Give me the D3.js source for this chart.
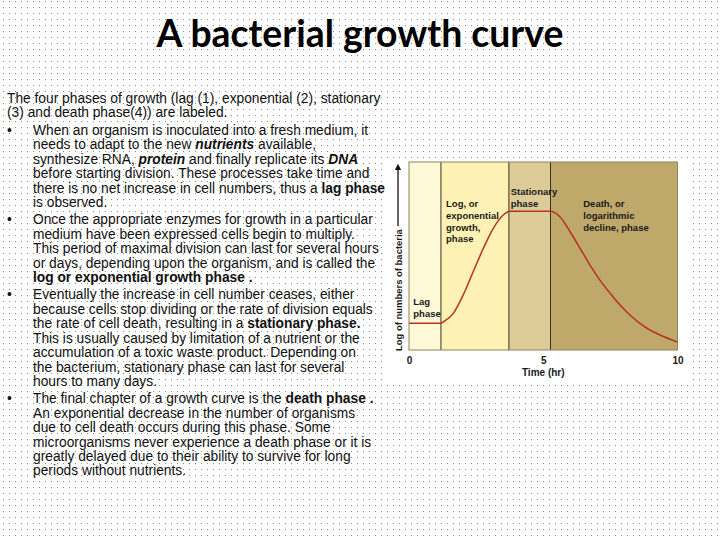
<!DOCTYPE html>
<html>
<head>
<meta charset="utf-8">
<script src="https://cdn.jsdelivr.net/npm/d3@7"></script>
<style>
  body { margin: 0; background: #fff; }
  svg { display: block; }
  .body-text { font-family: "Liberation Sans", Arial, sans-serif; font-size: 13px; fill: #111; }
  .fig-text { font-family: "Liberation Sans", Arial, sans-serif; font-weight: bold; font-size: 9.5px; fill: #1a1a1a; }
</style>
</head>
<body>
<svg id="slide" width="720" height="540"></svg>
<script>
// growth curve (time in hr, log count in arbitrary units)
var times  = [0, 1.19, 1.28, 1.65, 2.02, 2.39, 2.77, 3.14, 3.51, 3.76, 5.25, 5.62, 6.0, 6.37, 6.74, 7.11, 7.49, 7.86, 8.23, 8.6, 8.98, 9.35, 10];
var logN   = [1.42, 1.42, 1.5, 1.95, 2.93, 4.16, 5.41, 6.47, 7.18, 7.38, 7.38, 7.09, 6.29, 5.41, 4.52, 3.72, 3.02, 2.39, 1.86, 1.42, 1.06, 0.8, 0.42];

var phaseStart = [0, 1.19, 3.72, 5.27];
var phaseEnd   = [1.19, 3.72, 5.27, 10];
var phaseColor = ['#fdf8d6', '#fdf2b3', '#ddcb98', '#bea96b'];
var phaseLabel = [['Lag', 'phase'], ['Log, or', 'exponential', 'growth,', 'phase'], ['Stationary', 'phase'], ['Death, or', 'logarithmic', 'decline, phase']];
var labelAt    = [[0.16, 2.39], [1.38, 7.6], [3.79, 8.24], [6.49, 7.6]];

var xTicks = [0, 5, 10];

// slide text, one entry per line: [paragraph, bullet?, segments]
var lines = [
  [0, false, [['The four phases of growth (lag (1), exponential (2), stationary']]],
  [0, false, [['(3) and death phase(4)) are labeled.']]],
  [1, true,  [['When an organism is inoculated into a fresh medium, it']]],
  [1, false, [['needs to adapt to the new '], ['nutrients', 'bi'], [' available,']]],
  [1, false, [['synthesize RNA, '], ['protein', 'bi'], [' and finally replicate its '], ['DNA', 'bi']]],
  [1, false, [['before starting division. These processes take time and']]],
  [1, false, [['there is no net increase in cell numbers, thus a '], ['lag phase', 'b']]],
  [1, false, [['is observed.']]],
  [2, true,  [['Once the appropriate enzymes for growth in a particular']]],
  [2, false, [['medium have been expressed cells begin to multiply.']]],
  [2, false, [['This period of maximal division can last for several hours']]],
  [2, false, [['or days, depending upon the organism, and is called the']]],
  [2, false, [['log or exponential growth phase .', 'b']]],
  [3, true,  [['Eventually the increase in cell number ceases, either']]],
  [3, false, [['because cells stop dividing or the rate of division equals']]],
  [3, false, [['the rate of cell death, resulting in a '], ['stationary phase.', 'b']]],
  [3, false, [['This is usually caused by limitation of a nutrient or the']]],
  [3, false, [['accumulation of a toxic waste product. Depending on']]],
  [3, false, [['the bacterium, stationary phase can last for several']]],
  [3, false, [['hours to many days.']]],
  [4, true,  [['The final chapter of a growth curve is the '], ['death phase .', 'b']]],
  [4, false, [['An exponential decrease in the number of organisms']]],
  [4, false, [['due to cell death occurs during this phase. Some']]],
  [4, false, [['microorganisms never experience a death phase or it is']]],
  [4, false, [['greatly delayed due to their ability to survive for long']]],
  [4, false, [['periods without nutrients.']]]
];

var svg = d3.select('#slide');

// scale a text so it spans the wanted width
function fit(sel, size, want){
  sel.style('font-size', size + 'px');
  var w = sel.node().getComputedTextLength();
  var s = size * want / w;
  sel.style('font-size', s + 'px');
  return s;
}

// dotted slide background
var defs = svg.append('defs');
defs.append('pattern')
  .attr('id', 'dots')
  .attr('width', 6).attr('height', 6)
  .attr('patternUnits', 'userSpaceOnUse')
  .append('rect')
  .attr('x', 3).attr('y', 1)
  .attr('width', 1).attr('height', 1)
  .attr('fill', '#8a8a8a');
svg.append('rect')
  .attr('width', 720).attr('height', 540)
  .attr('fill', 'url(#dots)');

var title = svg.append('text')
  .attr('x', 360).attr('y', 47)
  .attr('text-anchor', 'middle')
  .style('font-family', 'Lato, "Open Sans", sans-serif')
  .style('font-weight', 'bold')
  .style('fill', '#000')
  .text('A bacterial growth curve');
fit(title, 33, 407);

// text block
var t = svg.append('g').attr('class', 'body-text');
lines.forEach(function(l, i){
  var y = 103 + 14.45 * i + 2.8 * l[0];
  if (l[1]) {
    t.append('text').attr('x', 7).attr('y', y).text('\u2022');
  }
  var tx = t.append('text')
    .attr('class', 'ln')
    .attr('x', l[0] == 0 ? 7 : 33)
    .attr('y', y);
  l[2].forEach(function(s){
    var sp = tx.append('tspan').text(s[0]);
    if (s[1] == 'b' || s[1] == 'bi') sp.style('font-weight', 'bold');
    if (s[1] == 'bi') sp.style('font-style', 'italic');
  });
});
var bodySize = fit(t.select('.ln'), 13, 374);
t.selectAll('text').style('font-size', bodySize + 'px');

// figure
var fig = svg.append('g');
fig.append('rect')
  .attr('x', 386).attr('y', 158)
  .attr('width', 304).attr('height', 224)
  .attr('fill', '#fff');

var x = d3.scaleLinear().domain([0, 10]).range([409, 677.5]);
var y = d3.scaleLinear().domain([0, 10]).range([350, 162]);

fig.selectAll('.phase')
  .data(phaseStart)
  .enter()
  .append('rect')
  .attr('class', 'phase')
  .attr('x', function(d){ return x(d) })
  .attr('y', y(10))
  .attr('width', function(d, i){ return x(phaseEnd[i]) - x(d) })
  .attr('height', y(0) - y(10))
  .attr('fill', function(d, i){ return phaseColor[i] });

fig.selectAll('.divider')
  .data(phaseStart.slice(1))
  .enter()
  .append('line')
  .attr('class', 'divider')
  .attr('x1', function(d){ return x(d) })
  .attr('x2', function(d){ return x(d) })
  .attr('y1', y(10)).attr('y2', y(0))
  .attr('stroke', '#3a3222')
  .attr('stroke-width', 1);

fig.append('rect')
  .attr('x', x(0)).attr('y', y(10))
  .attr('width', x(10) - x(0)).attr('height', y(0) - y(10))
  .attr('fill', 'none')
  .attr('stroke', '#8f8460')
  .attr('stroke-width', 1);

var linegen = d3.line()
  .x(function(d, i){ return x(times[i]) })
  .y(function(d){ return y(d) })
  .curve(d3.curveMonotoneX);

fig.append('path')
  .attr('d', linegen(logN))
  .attr('fill', 'none')
  .attr('stroke', '#b8321f')
  .attr('stroke-width', 1.5);

// phase names
phaseLabel.forEach(function(lbl, i){
  var tx = fig.append('text')
    .attr('class', 'fig-text')
    .attr('x', x(labelAt[i][0]))
    .attr('y', y(labelAt[i][1]));
  lbl.forEach(function(w, j){
    tx.append('tspan')
      .attr('x', x(labelAt[i][0]))
      .attr('dy', j == 0 ? 0 : 11.7)
      .text(w);
  });
});

// axes
var xAxis = fig.append('g')
  .attr('transform', 'translate(0,' + (y(0) + 2) + ')')
  .call(d3.axisBottom(x).tickValues(xTicks).tickSize(0).tickFormat(d3.format('d')));
xAxis.select('.domain').remove();
xAxis.selectAll('text')
  .attr('class', 'fig-text')
  .attr('dy', '0.9em')
  .style('font-size', '10px');

fig.append('text')
  .attr('class', 'fig-text')
  .attr('x', x(5)).attr('y', 376)
  .attr('text-anchor', 'middle')
  .style('font-size', '10px')
  .text('Time (hr)');

var ylab = fig.append('text')
  .attr('class', 'fig-text')
  .attr('transform', 'translate(401.5,' + (y(0) + 1) + ') rotate(-90)')
  .text('Log of numbers of bacteria');
fit(ylab, 10, 122);

defs.append('marker')
  .attr('id', 'head')
  .attr('viewBox', '0 0 10 10')
  .attr('refX', 5).attr('refY', 5)
  .attr('markerWidth', 5).attr('markerHeight', 7)
  .attr('orient', 'auto')
  .append('path')
  .attr('d', 'M0,0 L10,5 L0,10 Z')
  .attr('fill', '#111');
fig.append('line')
  .attr('x1', 398).attr('x2', 398)
  .attr('y1', y(0) + 1 - 125).attr('y2', 167)
  .attr('stroke', '#111')
  .attr('stroke-width', 1.3)
  .attr('marker-end', 'url(#head)');
</script>
</body>
</html>
